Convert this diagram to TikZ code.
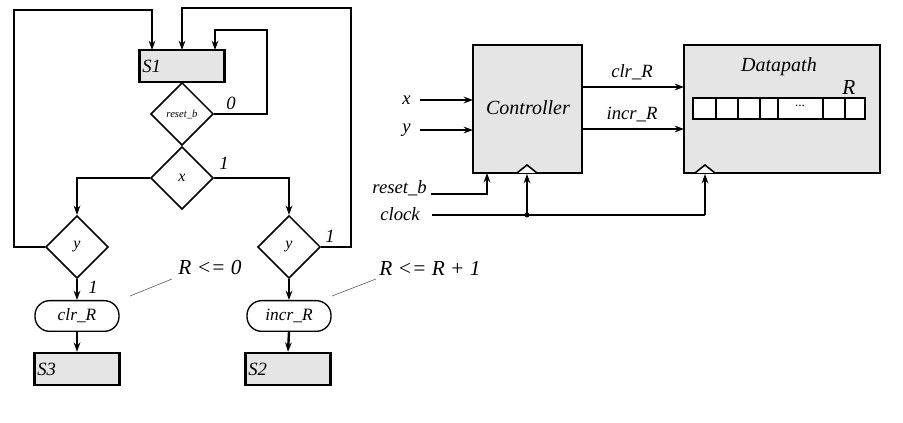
\documentclass[tikz,border=0pt]{standalone}
\usepackage{fontspec}
\setmainfont{Liberation Serif}
\usetikzlibrary{shapes.geometric,arrows.meta}
\begin{document}
\begin{tikzpicture}[x=0.75pt,y=-0.75pt,
  lbl/.style={font=\itshape\fontsize{14}{16}\selectfont,inner sep=0pt},
  state/.style={draw,line width=1.8pt,fill=black!10,minimum width=64pt,minimum height=24pt,inner sep=0pt,anchor=center},
  dec/.style={draw,line width=1.1pt,diamond,minimum width=47pt,minimum height=47pt,inner sep=0pt,font=\itshape\fontsize{12}{14}\selectfont},
  cond/.style={draw,line width=1pt,rounded corners=11pt,minimum width=63pt,minimum height=23pt,inner sep=0pt,font=\itshape\fontsize{13}{15}\selectfont},
  blk/.style={draw,line width=1.8pt,fill=black!10},
  arr/.style={-{Stealth[length=7pt,width=5pt]},line width=1pt},
  tarr/.style={-{Stealth[length=7pt,width=5pt]},line width=1.8pt}]
\useasboundingbox (0,0) rectangle (903,423);
% ASM chart
\node[state] (s1) at (182,66) {};
\node[lbl,anchor=west] at (s1.west) {\hspace{3pt}S1};
\node[dec,font=\itshape\fontsize{8}{9}\selectfont] (rb) at (182,114) {reset\_b};
\node[dec] (dx) at (182,178) {x};
\node[dec] (yl) at (77,247) {y};
\node[dec] (yr) at (289,247) {y};
\node[cond] (clr) at (77,316) {clr\_R};
\node[cond] (inc) at (289,316) {incr\_R};
\node[state] (s3) at (77,369) {};
\node[lbl,anchor=west] at (s3.west) {\hspace{3pt}S3};
\node[state] (s2) at (288,369) {};
\node[lbl,anchor=west] at (s2.west) {\hspace{3pt}S2};
\coordinate (t1) at (152,50); \coordinate (t2) at (182,50); \coordinate (t3) at (215,50);
\draw[arr] (yl.west) -- (14,247) -- (14,10) -- (152,10) -- (t1);
\draw[arr] (yr.east) -- (351,247) -- (351,8) -- (182,8) -- (t2);
\draw[tarr,line width=2.2pt] (rb.east) -- (267,114) -- (267,30) -- (215,30) -- (t3);
\draw[arr] (dx.west) -- (77,178) -- (yl.north);
\draw[arr] (dx.east) -- (289,178) -- (yr.north);
\draw[tarr] (yl.south) -- (clr.north);
\draw[tarr] (yr.south) -- (inc.north);
\draw[tarr] (clr.south) -- (s3.north);
\draw[tarr] (inc.south) -- (s2.north);
\node[lbl] at (231,103) {0};
\node[lbl] at (224,163) {1};
\node[lbl] at (330,236) {1};
\node[lbl] at (93,287) {1};
\node[lbl,font=\itshape\fontsize{16}{18}\selectfont] (r0) at (210,268) {R <= 0};
\node[lbl,font=\itshape\fontsize{16}{18}\selectfont] (r1) at (430,268) {R <= R + 1};
\draw[line width=0.5pt,black!60] (130,296) -- (172,279);
\draw[line width=0.5pt,black!60] (332,296) -- (376,279);
% block diagram
\draw[blk] (473,45) rectangle (582,173);
\node[lbl,font=\itshape\fontsize{15}{17}\selectfont] (ctl) at (528,108) {Controller};
\draw[blk] (684,45) rectangle (880,173);
\node[lbl,font=\itshape\fontsize{15}{17}\selectfont] (dp) at (779,67) {Datapath};
\node[lbl,font=\itshape\fontsize{16}{18}\selectfont] (rr) at (849,88) {R};
\draw[line width=1.5pt,fill=white] (693,98) rectangle (865,119);
\foreach \xx in {716,738,760,778,823,845} \draw[line width=1.5pt] (\xx,98) -- (\xx,119);
\node[font=\fontsize{10}{10}\selectfont] at (800,106) {...};
\draw[line width=1.2pt,fill=white] (517,173) -- (527,165) -- (537,173);
\draw[line width=1.2pt,fill=white] (695,173) -- (705,165) -- (715,173);
\node[lbl,anchor=east] (ix) at (411,100) {x};
\node[lbl,anchor=east] (iy) at (411,130) {y};
\node[lbl,anchor=east] (irb) at (427,188) {reset\_b};
\node[lbl,anchor=east] (ick) at (420,214) {clock};
\draw[tarr,line width=1.6pt] (420,100) -- (473,100);
\draw[tarr,line width=1.6pt] (420,130) -- (473,130);
\draw[tarr,line width=1.6pt] (582,87) -- (684,87);
\draw[tarr,line width=1.6pt] (582,129) -- (684,129);
\node[lbl] at (632,72) {clr\_R};
\node[lbl] at (632,115) {incr\_R};
\draw[tarr,line width=2pt] (431,194) -- (487,194) -- (487,173);
\draw[line width=2pt] (432,215) -- (705,215);
\draw[tarr,line width=2pt] (527,215) -- (527,174);
\draw[tarr,line width=2pt] (705,215) -- (705,174);
\fill (527,215) circle (2.5);
\end{tikzpicture}
\end{document}
